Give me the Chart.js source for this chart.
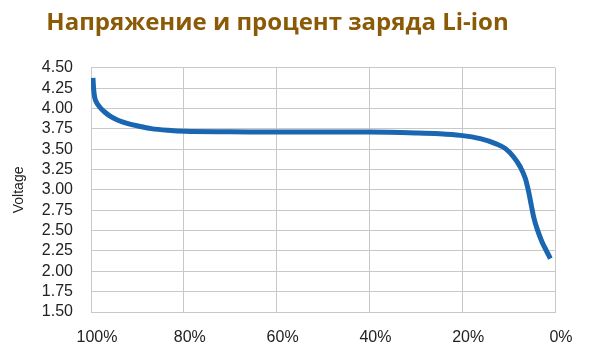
<!DOCTYPE html>
<html>
<head>
<meta charset="utf-8">
<script src="https://cdn.jsdelivr.net/npm/chart.js@4"></script>
<style>
  html, body { margin: 0; padding: 0; background: #fff; }
  #wrap { width: 590px; height: 354px; position: relative; }
</style>
</head>
<body>
<div id="wrap"><canvas id="liionChart"></canvas></div>
<script>
// charge level (%) and voltage
const chargePct = [99.58, 99.44, 99.22, 98.86, 98.14, 97.06, 95.62, 94.19, 92.03, 89.87, 86.99, 83.39, 79.79,
                   70, 60, 50, 40, 30, 25, 20.4, 16.1, 12.83, 10.67, 8.91, 7.47, 6.39, 5.67, 5.1, 4.6, 3.87, 2.79, 1.71, 1.0];
const voltage = [4.375, 4.244, 4.142, 4.08, 4.019, 3.957, 3.896, 3.855, 3.814, 3.785, 3.753, 3.732, 3.72,
                 3.715, 3.71, 3.71, 3.71, 3.70, 3.69, 3.67, 3.63, 3.569, 3.507, 3.404, 3.281, 3.139, 2.974, 2.81, 2.667, 2.524, 2.36, 2.237, 2.156];
const xTicks = [100, 80, 60, 40, 20, 0];
const yTicks = [1.5, 1.75, 2.0, 2.25, 2.5, 2.75, 3.0, 3.25, 3.5, 3.75, 4.0, 4.25, 4.5];

const points = chargePct.map((p, i) => ({ x: p, y: voltage[i] }));
const labelFont = { family: '"Liberation Sans", Arial, sans-serif', size: 16 };

const ctx = document.getElementById('liionChart').getContext('2d');
new Chart(ctx, {
    type: 'line',
    data: {
        datasets: [{
            label: 'Voltage',
            data: points,
            borderColor: '#1a66b0',
            borderWidth: 5,
            pointRadius: 0,
            cubicInterpolationMode: 'monotone',
            fill: false
        }]
    },
    options: {
        responsive: true,
        maintainAspectRatio: false,
        animation: false,
        layout: {
            padding: { left: 0, right: 35, top: 0, bottom: 0 }
        },
        plugins: {
            legend: { display: false },
            tooltip: { enabled: false },
            title: {
                display: true,
                text: 'Напряжение и процент заряда Li-ion',
                color: '#8b5a06',
                font: { family: '"Open Sans", Roboto, sans-serif', size: 24, weight: 'bold' },
                padding: { top: 9, bottom: 30 }
            }
        },
        scales: {
            x: {
                type: 'linear',
                reverse: true,
                min: 0,
                max: 100,
                afterBuildTicks: (axis) => { axis.ticks = xTicks.map(v => ({ value: v })); },
                afterFit: (axis) => { axis.height = 42; },
                grid: { color: '#c8c8c8', drawTicks: false },
                border: { color: '#c8c8c8' },
                ticks: {
                    autoSkip: false,
                    maxRotation: 0,
                    padding: 16,
                    labelOffset: 6,
                    color: '#222',
                    font: labelFont,
                    callback: (v) => v + '%'
                }
            },
            y: {
                min: 1.5,
                max: 4.5,
                afterBuildTicks: (axis) => { axis.ticks = yTicks.map(v => ({ value: v })); },
                afterFit: (axis) => { axis.width = 91; },
                grid: { color: '#c8c8c8', drawTicks: false },
                border: { color: '#c8c8c8' },
                title: {
                    display: true,
                    text: 'Voltage',
                    color: '#222',
                    font: { family: '"Liberation Sans", Arial, sans-serif', size: 14 },
                    padding: { top: 11, bottom: 0 }
                },
                ticks: {
                    autoSkip: false,
                    padding: 18,
                    color: '#222',
                    font: labelFont,
                    callback: (v) => v.toFixed(2)
                }
            }
        }
    }
});
</script>
</body>
</html>
